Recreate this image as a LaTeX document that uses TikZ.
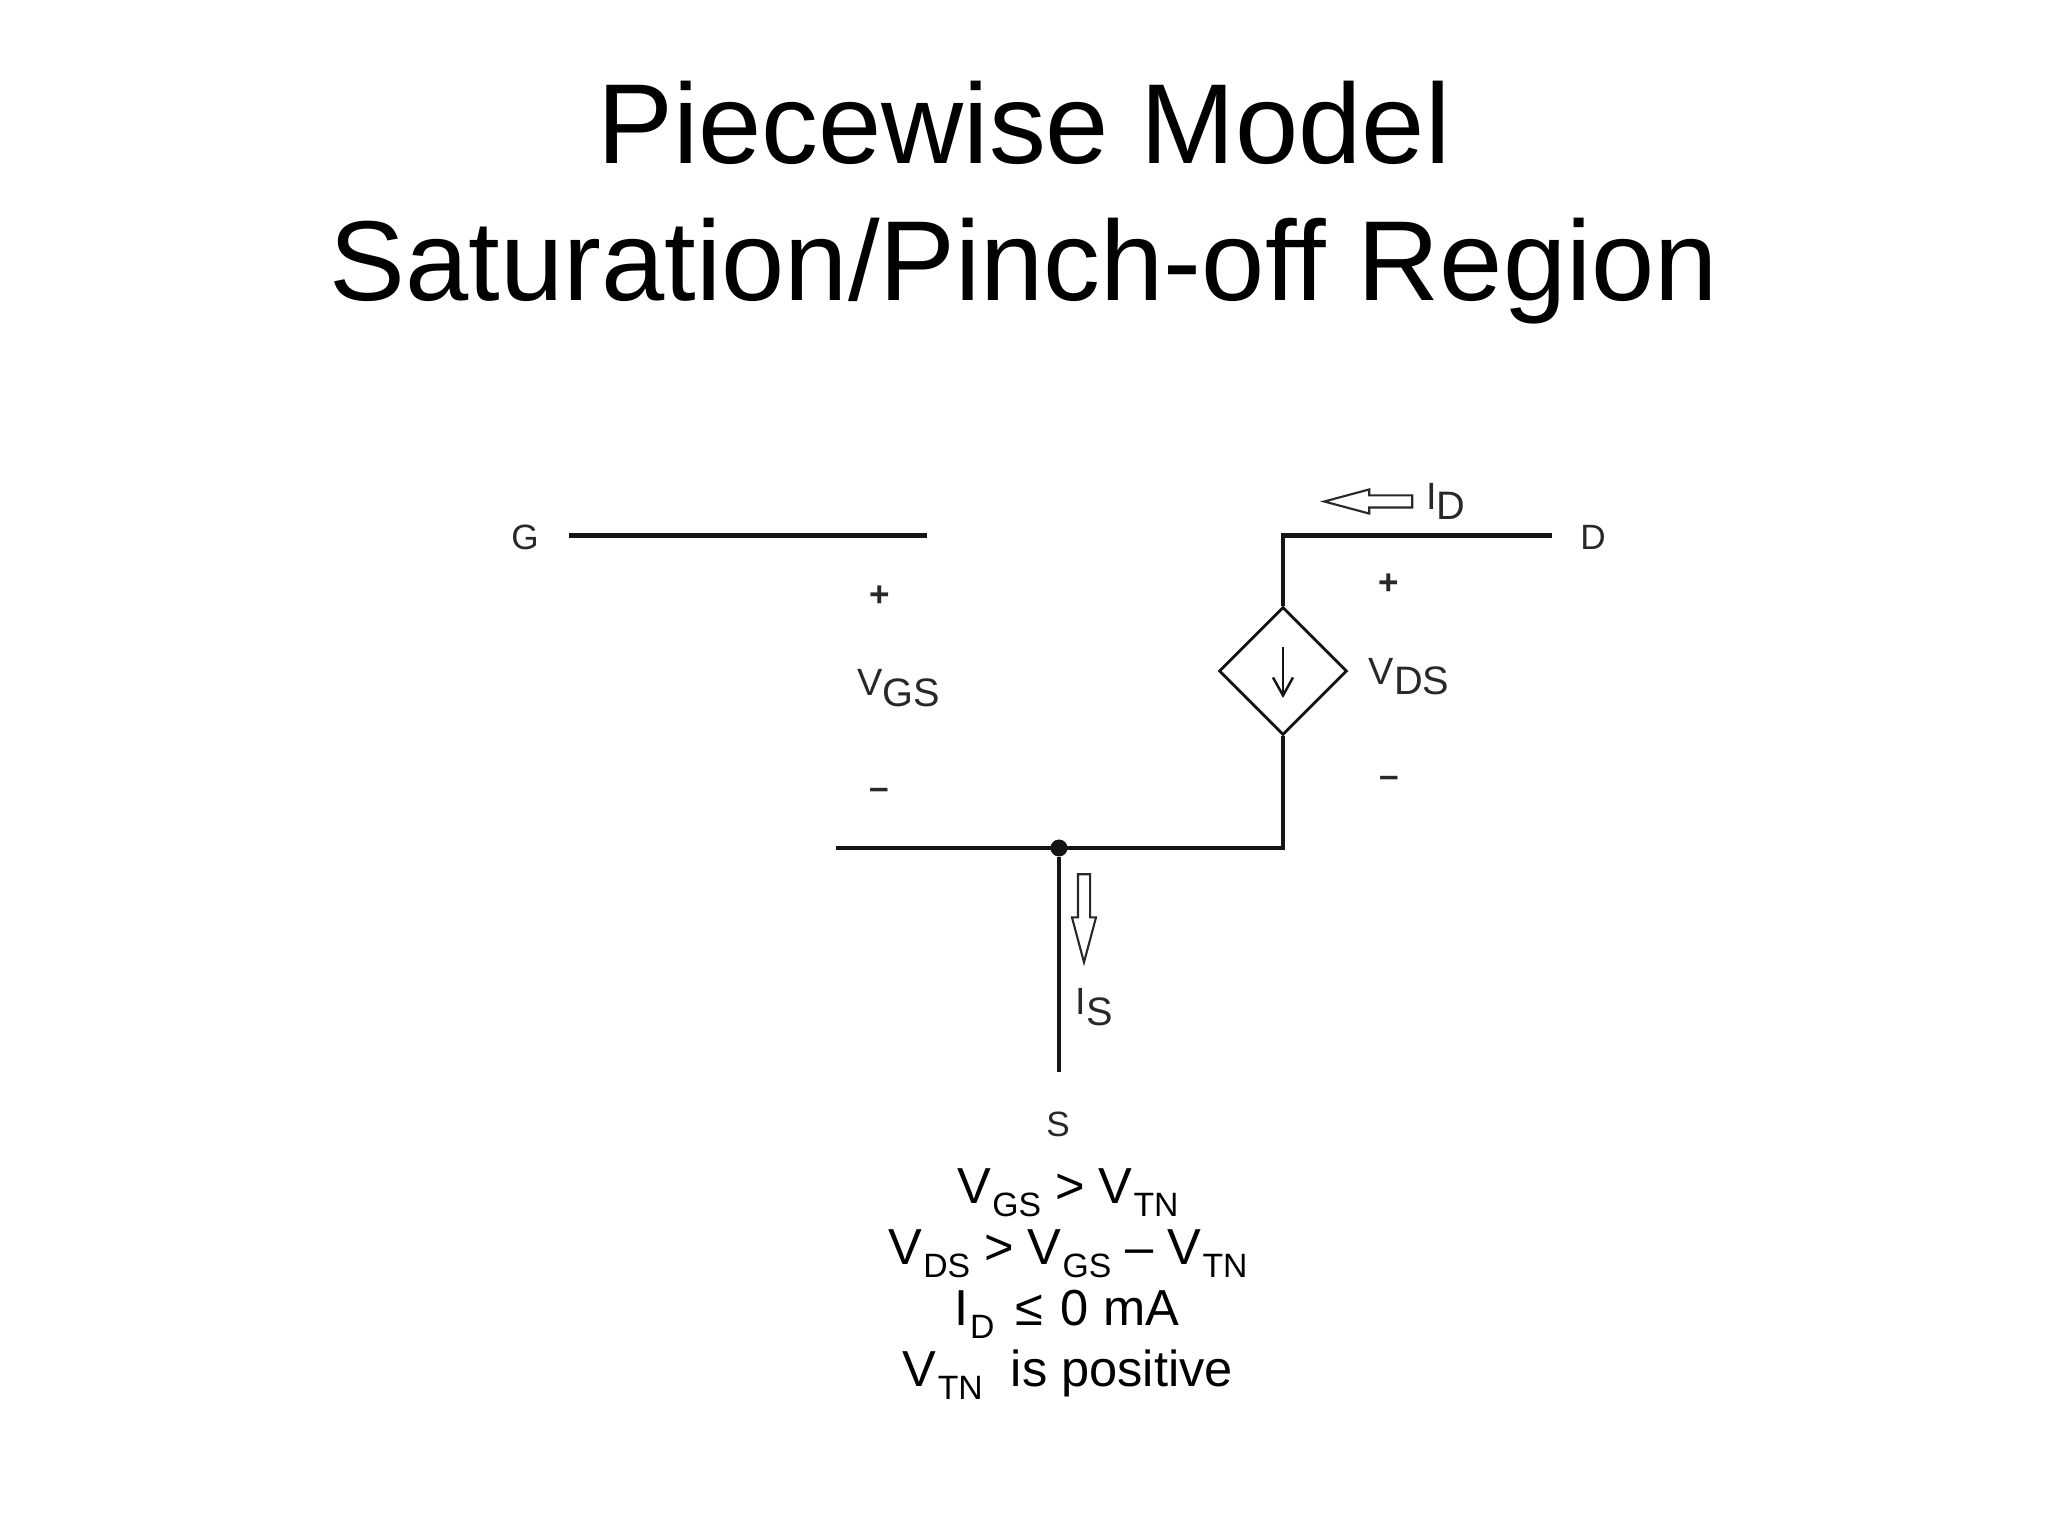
\documentclass[tikz,border=0pt]{standalone}
\usepackage{fontspec}
\setmainfont{Liberation Sans}
\usepackage{tikz}
\usetikzlibrary{arrows.meta,shapes.geometric,shapes.arrows}
\definecolor{labelgray}{RGB}{40, 40, 40}
\definecolor{wireblack}{RGB}{20, 20, 20}
\newcommand{\circsub}[2]{{\fontsize{10.8}{10.8}\selectfont\raisebox{2pt}{#1}}{\fontsize{11.3}{11.3}\selectfont\raisebox{-1pt}{#2}}}
\newcommand{\lowsub}[2]{#1\kern0.3pt{\fontsize{9.6}{9.6}\selectfont\raisebox{-3.6pt}{#2}}}
\tikzset{
	wire/.style = {line width = 1.3pt, color = wireblack},
	thinwire/.style = {line width = 0.7pt, color = wireblack},
	pinlabel/.style = {text = labelgray, font = \fontsize{10}{10}\selectfont, inner sep = 0pt},
	volt/.style = {text = labelgray, inner sep = 0pt},
	signlabel/.style = {text = labelgray, font = \fontsize{10}{10}\selectfont\bfseries, inner sep = 0pt},
	titleline/.style = {anchor = base, inner sep = 0pt, font = \fontsize{32.35}{40}\selectfont},
	condline/.style = {anchor = base, inner sep = 0pt, font = \fontsize{14.4}{16}\selectfont},
	hollow/.style = {single arrow, draw = labelgray, fill = white, line width = 0.6pt, inner sep = 0.05cm,
		minimum width = 0.22cm, minimum height = 0.88cm, single arrow head extend = 0.06cm, single arrow tip angle = 30}
}
\begin{document}
\begin{tikzpicture}[x = 1cm, y = -1cm]
	\useasboundingbox (0,0) rectangle (20.48,15.36);
	\node (t1) at (10.24,1.64) [titleline] {Piecewise Model};
	\node (t2) at (10.24,3.01) [titleline] {Saturation/Pinch-off Region};
	\node (g) at (5.25,5.37) [pinlabel] {G};
	\node (d) at (15.93,5.37) [pinlabel] {D};
	\node (s) at (10.58,11.24) [pinlabel] {S};
	\coordinate (gl) at (5.69,5.355);
	\coordinate (gr) at (9.27,5.355);
	\coordinate (dr) at (15.52,5.355);
	\coordinate (dc) at (12.83,5.355);
	\coordinate (sc) at (12.83,8.48);
	\coordinate (sl) at (8.36,8.48);
	\coordinate (sb) at (10.59,10.72);
	\coordinate (it) at (12.83,6.47);
	\coordinate (ib) at (12.83,6.98);
	\node (src) at (12.83,6.71) [diamond, draw = wireblack, line width = 0.8pt, aspect = 1, inner sep = 0pt, minimum width = 1.28cm, minimum height = 1.28cm] {};
	\node (j) at (10.59,8.48) [circle, fill = wireblack, inner sep = 0pt, minimum size = 0.17cm] {};
	\draw[wire] (gl) -- (gr);
	\draw[wire] (dr) -- (dc) -- (src);
	\draw[wire] (src) -- (sc) -- (sl);
	\draw[wire] (j) -- (sb);
	\draw[thinwire, -{Straight Barb[length = 1.8mm, width = 2mm]}] (it) -- (ib);
	\node (p1) at (8.80,5.96) [signlabel] {+};
	\node (v1) at (8.985,6.88) [volt] {\circsub{V}{GS}};
	\node (m1) at (8.79,7.94) [signlabel] {–};
	\node (p2) at (13.89,5.84) [signlabel] {+};
	\node (v2) at (14.09,6.765) [volt] {\circsub{V}{DS}};
	\node (m2) at (13.89,7.82) [signlabel] {–};
	\node (ad) at (13.795,5.015) [hollow, shape border rotate = 180] {};
	\node (id) at (14.46,5.015) [volt] {\circsub{I}{D}};
	\node (as) at (10.84,9.07) [hollow, shape border rotate = 270] {};
	\node (is) at (10.94,10.07) [volt] {\circsub{I}{S}};
	\node (c1) at (10.68,12.035) [condline] {\lowsub{V}{GS} > \lowsub{V}{TN}};
	\node (c2) at (10.68,12.645) [condline] {\lowsub{V}{DS} > \lowsub{V}{GS} – \lowsub{V}{TN}};
	\node (c3) at (10.67,13.255) [condline] {\lowsub{I}{D}\kern2pt{} ≤\kern1pt{} 0 mA};
	\node (c4) at (10.68,13.865) [condline] {\lowsub{V}{TN}\ \ is positive};
\end{tikzpicture}
\end{document}
